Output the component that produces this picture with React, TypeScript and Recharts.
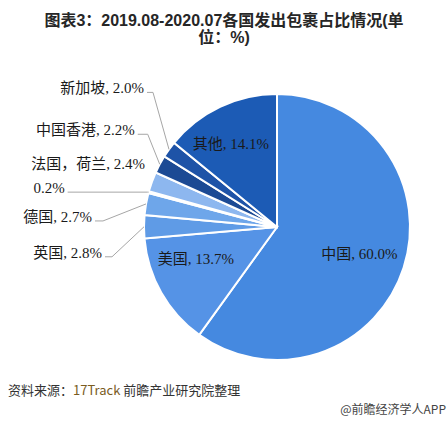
import React from "react";
import { PieChart, Pie, Cell } from "recharts";

// Share of parcels shipped by origin, 2019.08-2020.07 (%)
const countries = ["中国", "美国", "英国", "德国", "", "法国，荷兰", "中国香港", "新加坡", "其他"];
const shares = [60.0, 13.7, 2.8, 2.7, 0.2, 2.4, 2.2, 2.0, 14.1];
const sliceColors = ["#4589e0", "#5593e6", "#5f9be6", "#6ea6ea", "#dbe8fa", "#8db7ef", "#1c4a94", "#1e53a7", "#1c5bb5"];

const data = countries.map((name, i) => ({ name, value: shares[i] }));

// label placement per slice: inside labels are nudged from the mid-radius point,
// outside labels get an elbow offset from the slice edge and a horizontal tail
type LabelSpec =
  | { kind: "in"; dx: number; dy: number }
  | { kind: "out"; ex: number; ey: number; tail: number; line: boolean };

const labelSpecs: LabelSpec[] = [
  { kind: "in", dx: 0, dy: 0 },
  { kind: "in", dx: -6, dy: -11 },
  { kind: "out", ex: -32, ey: 30, tail: 7, line: true },
  { kind: "out", ex: -43, ey: 17, tail: 8, line: true },
  { kind: "out", ex: -1, ey: 0, tail: 80, line: true },
  { kind: "out", ex: 0, ey: -14, tail: 4, line: false },
  { kind: "out", ex: -12, ey: -30, tail: 10, line: true },
  { kind: "out", ex: -16, ey: -57, tail: 6, line: true },
  { kind: "in", dx: -9, dy: -5 },
];

const RAD = Math.PI / 180;
const labelFont = '"Liberation Serif", "Noto Sans CJK SC", serif';

const labelText = (i: number) => {
  const name = countries[i];
  const v = `${shares[i].toFixed(1)}%`;
  return name ? `${name}, ${v}` : v;
};

const renderLabel = (props: any) => {
  const { cx, cy, midAngle, outerRadius, index } = props;
  const spec = labelSpecs[index];
  const cos = Math.cos(-midAngle * RAD);
  const sin = Math.sin(-midAngle * RAD);
  if (spec.kind === "in") {
    const r = outerRadius * 0.65;
    return (
      <text
        key={`l${index}`}
        x={cx + r * cos + spec.dx}
        y={cy + r * sin + spec.dy}
        textAnchor="middle"
        dominantBaseline="central"
        fontFamily={labelFont}
        fontSize={15}
        fill="#1a1a1a"
      >
        {labelText(index)}
      </text>
    );
  }
  const sx = cx + outerRadius * cos;
  const sy = cy + outerRadius * sin;
  const mx = sx + spec.ex;
  const my = sy + spec.ey;
  const tx = mx - spec.tail;
  return (
    <g key={`l${index}`}>
      {spec.line && (
        <polyline
          points={`${sx},${sy} ${mx},${my} ${tx},${my}`}
          fill="none"
          stroke="#a6a6a6"
          strokeWidth={1}
        />
      )}
      <text
        x={tx - 3}
        y={my + 1}
        textAnchor="end"
        fontFamily={labelFont}
        fontSize={15}
        fill="#1a1a1a"
      >
        {labelText(index)}
      </text>
    </g>
  );
};

const titleLineStyle: React.CSSProperties = {
  position: "absolute",
  left: 0,
  width: 448,
  textAlign: "center",
  fontFamily: '"Liberation Sans", "Noto Sans CJK SC", sans-serif',
  fontSize: 16,
  lineHeight: "16px",
  fontWeight: 700,
  color: "#262626",
  whiteSpace: "nowrap",
};

export default function App() {
  return (
    <div
      style={{
        position: "absolute",
        left: 0,
        top: 0,
        width: 448,
        height: 421,
        background: "#ffffff",
        fontFamily: '"Noto Sans CJK SC", sans-serif',
      }}
    >
      <div style={{ ...titleLineStyle, top: 13 }}>图表3：2019.08-2020.07各国发出包裹占比情况(单</div>
      <div style={{ ...titleLineStyle, top: 30 }}>位：%)</div>
      <div style={{ position: "absolute", left: 0, top: 0 }}>
        <PieChart width={448} height={421}>
          <Pie
            data={data}
            dataKey="value"
            nameKey="name"
            cx={272}
            cy={222}
            outerRadius={133}
            startAngle={90}
            endAngle={-270}
            stroke="#ffffff"
            strokeWidth={2}
            label={renderLabel}
            labelLine={false}
            isAnimationActive={false}
          >
            {data.map((d, i) => (
              <Cell key={d.name + i} fill={sliceColors[i]} />
            ))}
          </Pie>
        </PieChart>
      </div>
      <div
        style={{
          position: "absolute",
          left: 8,
          top: 382,
          fontSize: 13,
          lineHeight: "16px",
          color: "#333333",
        }}
      >
        资料来源：<span style={{ color: "#7a5c1e" }}>17Track</span> 前瞻产业研究院整理
      </div>
      <div
        style={{
          position: "absolute",
          right: 2,
          top: 401,
          fontSize: 12,
          lineHeight: "16px",
          color: "#444444",
        }}
      >
        @前瞻经济学人APP
      </div>
    </div>
  );
}
